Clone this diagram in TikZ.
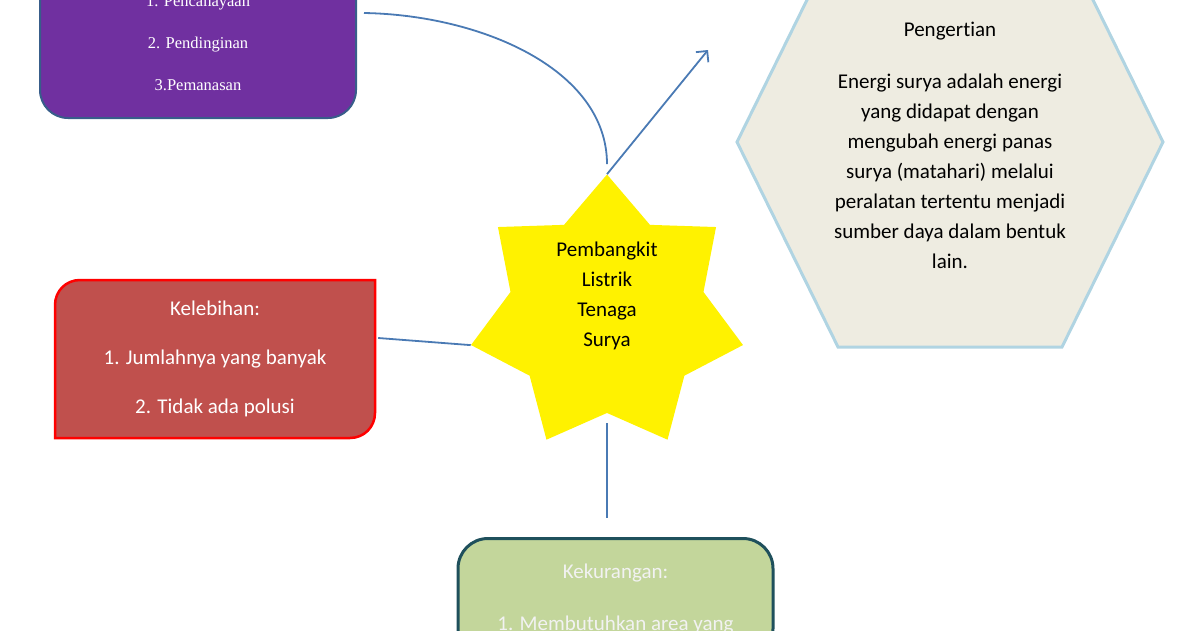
\documentclass[tikz,border=0pt]{standalone}
\usepackage{fontspec}
\setmainfont{Carlito}[Ligatures=NoCommon]
\newfontfamily\timesfont{Liberation Serif}
\usepackage{xcolor}
\usetikzlibrary{shapes.geometric,arrows.meta}

\definecolor{linkblue}{RGB}{74,122,180}
\definecolor{toolfill}{RGB}{112,48,160}
\definecolor{tooledge}{RGB}{56,93,138}
\definecolor{plusfill}{RGB}{192,80,77}
\definecolor{minusfill}{RGB}{195,214,155}
\definecolor{minusedge}{RGB}{31,80,92}
\definecolor{hexfill}{RGB}{238,236,225}
\definecolor{hexedge}{RGB}{176,212,226}

\begin{document}
\begin{tikzpicture}[x=1pt, y=-1pt,
    body/.style={font=\fontsize{21}{30}\selectfont, align=center},
    link/.style={draw=linkblue, line width=1.8pt},
    sun/.style={star, star points=7, star point ratio=1.41, minimum size=279pt,
        inner sep=0pt, fill=yellow},
    toolbox/.style={rectangle, rounded corners=28pt, draw=tooledge, line width=2pt,
        fill=toolfill, text=white, align=center, minimum width=316pt,
        minimum height=150pt, font=\timesfont\fontsize{16.5}{42}\selectfont},
    plusbox/.style={draw=red, line width=2.5pt, fill=plusfill},
    minusbox/.style={rectangle, rounded corners=30pt, draw=minusedge, line width=3pt,
        fill=minusfill, text=white!95!black, body, minimum width=315pt,
        inner ysep=25pt},
    hexa/.style={draw=hexedge, line width=3pt, fill=hexfill}]

    \useasboundingbox (0,0) rectangle (1200,630);

    % centre
    \node[sun] (sun) at (607,314) {};
    \node[body] (title) at (607,296) {Pembangkit\\Listrik\\Tenaga\\Surya};

    % pengertian
    \filldraw[hexa] (737,142) -- (838,-63) -- (1062,-63) -- (1163,142)
        -- (1062,347) -- (838,347) -- cycle;
    \node[body] (defn) at (950,145) {Pengertian\\[22pt]Energi surya adalah energi\\
        yang didapat dengan\\mengubah energi panas\\surya (matahari) melalui\\
        peralatan tertentu menjadi\\sumber daya dalam bentuk\\lain.};

    % kegunaan
    \node[toolbox] (tools) at (198,43) {1. Pencahayaan\\2. Pendinginan\\3.Pemanasan};

    % kelebihan
    \filldraw[plusbox] (55,438) -- (55,305) .. controls (55,291) and (66,280) .. (80,280)
        -- (375,280) -- (375,413) .. controls (375,427) and (364,438) .. (350,438) -- cycle;
    \node[body, text=white, minimum width=320pt, minimum height=158pt] (plus) at (215,359)
        {Kelebihan:\\[19pt]1. Jumlahnya yang banyak\\[19pt]2. Tidak ada polusi};

    % kekurangan
    \node[minusbox, anchor=north] (minus) at (615.5,537)
        {Kekurangan:\\[22pt]1. Membutuhkan area yang};

    \coordinate (aim) at (708,50);

    \path[link]
        ([xshift=7pt, yshift=30pt]tools.east) .. controls +(117,2) and +(0,-95) .. ([yshift=10pt]sun.north)
        (sun.north) edge[-{Straight Barb[length=8pt, width=16pt]}] (aim)
        ([xshift=3pt, yshift=21pt]plus.east) edge (sun.outer point 3)
        ([yshift=-10pt]sun.south) edge ([yshift=19pt]sun.south |- minus.north);

\end{tikzpicture}
\end{document}
